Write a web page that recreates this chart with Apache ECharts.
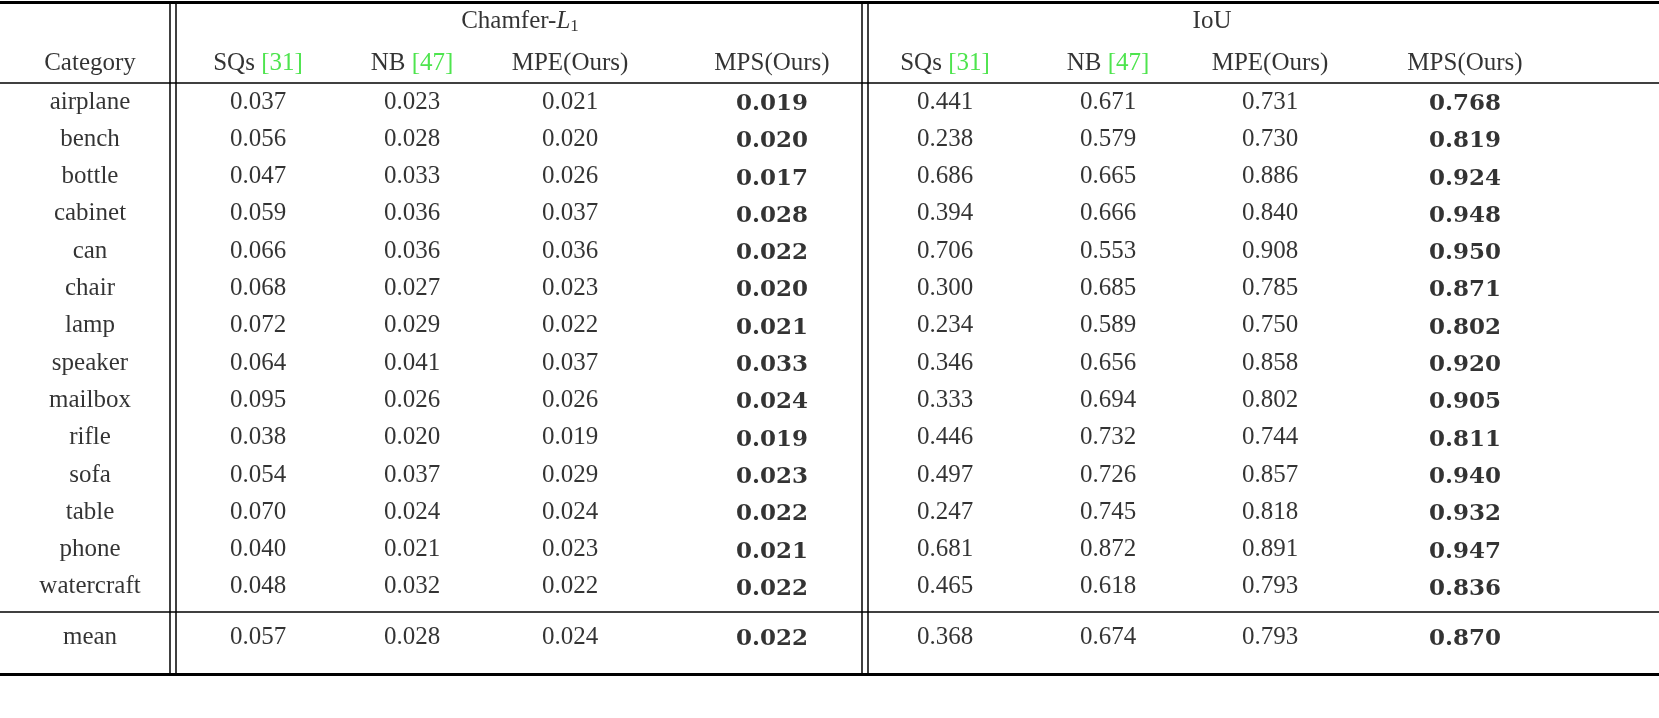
<!DOCTYPE html>
<html>
<head>
<meta charset="utf-8">
<script src="https://cdn.jsdelivr.net/npm/echarts@6/dist/echarts.min.js"></script>
<style>html,body{margin:0;background:#fff}#chart{width:1659px;height:718px}</style>
</head>
<body>
<div id="chart"></div>
<script>
// table content
var categories = ['airplane','bench','bottle','cabinet','can','chair','lamp','speaker','mailbox','rifle','sofa','table','phone','watercraft'];
var chamferSQs = ['0.037','0.056','0.047','0.059','0.066','0.068','0.072','0.064','0.095','0.038','0.054','0.070','0.040','0.048'];
var chamferNB  = ['0.023','0.028','0.033','0.036','0.036','0.027','0.029','0.041','0.026','0.020','0.037','0.024','0.021','0.032'];
var chamferMPE = ['0.021','0.020','0.026','0.037','0.036','0.023','0.022','0.037','0.026','0.019','0.029','0.024','0.023','0.022'];
var chamferMPS = ['0.019','0.020','0.017','0.028','0.022','0.020','0.021','0.033','0.024','0.019','0.023','0.022','0.021','0.022'];
var iouSQs = ['0.441','0.238','0.686','0.394','0.706','0.300','0.234','0.346','0.333','0.446','0.497','0.247','0.681','0.465'];
var iouNB  = ['0.671','0.579','0.665','0.666','0.553','0.685','0.589','0.656','0.694','0.732','0.726','0.745','0.872','0.618'];
var iouMPE = ['0.731','0.730','0.886','0.840','0.908','0.785','0.750','0.858','0.802','0.744','0.857','0.818','0.891','0.793'];
var iouMPS = ['0.768','0.819','0.924','0.948','0.950','0.871','0.802','0.920','0.905','0.811','0.940','0.932','0.947','0.836'];
var meanRow = ['mean','0.057','0.028','0.024','0.022','0.368','0.674','0.793','0.870'];
var headers = ['Category','SQs {g|[31]}','NB {g|[47]}','MPE(Ours)','MPS(Ours)','SQs {g|[31]}','NB {g|[47]}','MPE(Ours)','MPS(Ours)'];

// layout (axis coordinates)
var colX = [90, 258, 412, 570, 772, 945, 1108, 1270, 1465];
var rowY0 = 102, rowStep = 37.3, meanY = 637;

var columns = [categories, chamferSQs, chamferNB, chamferMPE, chamferMPS, iouSQs, iouNB, iouMPE, iouMPS];
var cells = [];
columns.forEach(function (col, c) {
  col.forEach(function (v, r) {
    cells.push({value: [colX[c], rowY0 + r * rowStep], txt: v, bold: c === 4 || c === 8});
  });
});
meanRow.forEach(function (v, c) {
  cells.push({value: [colX[c], meanY], txt: v, bold: c === 4 || c === 8});
});
headers.forEach(function (v, c) {
  cells.push({value: [colX[c], 63], txt: v});
});
cells.push({value: [520, 21], txt: 'Chamfer-{i|L}{s|1}'});
cells.push({value: [1212, 21], txt: 'IoU'});

var rules = [
  {coords: [[0, 2], [1659, 2]], lineStyle: {width: 3}},
  {coords: [[0, 83], [1659, 83]], lineStyle: {width: 1.5}},
  {coords: [[0, 612], [1659, 612]], lineStyle: {width: 1.5}},
  {coords: [[0, 674], [1659, 674]], lineStyle: {width: 3}},
  {coords: [[170, 2], [170, 674]]},
  {coords: [[176, 2], [176, 674]]},
  {coords: [[862, 2], [862, 674]]},
  {coords: [[868, 2], [868, 674]]}
];

var font = '"Liberation Serif", "DejaVu Serif", serif';
var chart = echarts.init(document.getElementById('chart'));
chart.setOption({
  backgroundColor: '#fff',
  animation: false,
  grid: {left: 0, right: 0, top: 0, bottom: 0},
  xAxis: {type: 'value', min: 0, max: 1659, show: false},
  yAxis: {type: 'value', min: 0, max: 718, inverse: true, show: false},
  series: [
    {
      type: 'lines', coordinateSystem: 'cartesian2d', polyline: false,
      lineStyle: {color: '#000', width: 1.5, opacity: 1}, data: rules, silent: true
    },
    {
      type: 'scatter', symbolSize: 0, data: cells,
      label: {
        show: true, position: 'inside', color: '#000',
        fontFamily: font, fontSize: 25,
        formatter: function (p) { return p.data.bold ? '{b|' + p.data.txt + '}' : p.data.txt; },
        rich: {
          g: {color: '#22dd22', fontFamily: font, fontSize: 25},
          b: {fontWeight: 'bold', fontFamily: '"DejaVu Serif", serif', fontSize: 23, color: '#000', padding: [4, 0, 0, 0]},
          i: {fontStyle: 'italic', fontFamily: font, fontSize: 25},
          s: {fontFamily: font, fontSize: 17, verticalAlign: 'bottom', padding: [12, 0, 0, 0]}
        }
      }
    }
  ]
});
</script>
</body>
</html>
